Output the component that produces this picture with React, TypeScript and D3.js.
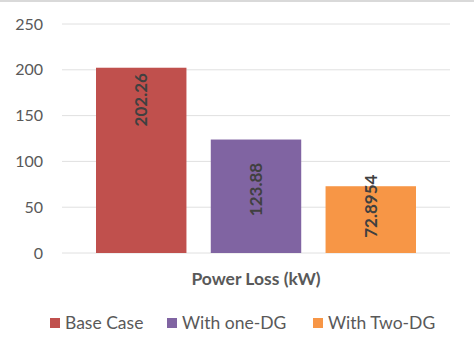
import React, { useRef, useEffect } from 'react';
import * as d3 from 'd3';

// data
const seriesNames = ['Base Case', 'With one-DG', 'With Two-DG'];
const seriesValues = [202.26, 123.88, 72.8954];
const valueLabels = ['202.26', '123.88', '72.8954'];
const yTicks = [0, 50, 100, 150, 200, 250];
const categoryLabel = 'Power Loss (kW)';

const colors = ['#C0504D', '#8064A2', '#F79646'];
// how far the label centre sits below the bar top, in px
const labelNudge = [32, 50, 20];

const W = 474;
const H = 353;
const FONT = 'Lato, "Open Sans", sans-serif';

const App = () => {
    const svgRef = useRef<SVGSVGElement>(null);

    useEffect(() => {
        const svg = d3.select(svgRef.current);
        svg.selectAll('*').remove();

        const plot = { left: 62, right: 450, top: 24, bottom: 253 };

        // top frame line
        svg.append('rect')
            .attr('x', 0).attr('y', 0)
            .attr('width', W).attr('height', 2)
            .attr('fill', '#d9d9d9');

        const y = d3.scaleLinear().domain([0, 250]).range([plot.bottom, plot.top]);

        // one category, three series
        const x = d3.scaleBand<string>()
            .domain(seriesNames)
            .range([96, 416])
            .paddingInner(0.212);

        // gridlines
        svg.append('g')
            .selectAll('line')
            .data(yTicks)
            .join('line')
            .attr('x1', plot.left)
            .attr('x2', plot.right)
            .attr('y1', d => y(d))
            .attr('y2', d => y(d))
            .attr('stroke', '#e0e0e0')
            .attr('stroke-width', 1);

        // y tick labels
        svg.append('g')
            .selectAll('text')
            .data(yTicks)
            .join('text')
            .attr('x', 43)
            .attr('y', d => y(d))
            .attr('dy', '0.35em')
            .attr('text-anchor', 'end')
            .attr('font-family', FONT)
            .attr('font-size', 16)
            .attr('fill', '#595959')
            .text(d => d);

        // bars
        svg.append('g')
            .selectAll('rect')
            .data(seriesValues)
            .join('rect')
            .attr('x', (d, i) => x(seriesNames[i]))
            .attr('y', d => y(d))
            .attr('width', x.bandwidth())
            .attr('height', d => y(0) - y(d))
            .attr('fill', (d, i) => colors[i]);

        // rotated value labels
        svg.append('g')
            .selectAll('text')
            .data(seriesValues)
            .join('text')
            .attr('transform', (d, i) => {
                const cx = x(seriesNames[i]) + x.bandwidth() / 2;
                const cy = y(d) + labelNudge[i];
                return `translate(${cx},${cy}) rotate(-90)`;
            })
            .attr('text-anchor', 'middle')
            .attr('dy', '0.35em')
            .attr('font-family', FONT)
            .attr('font-weight', 'bold')
            .attr('font-size', 17)
            .attr('fill', '#404040')
            .text((d, i) => valueLabels[i]);

        // category label
        svg.append('text')
            .attr('x', 256)
            .attr('y', 279)
            .attr('dy', '0.35em')
            .attr('text-anchor', 'middle')
            .attr('font-family', FONT)
            .attr('font-weight', 'bold')
            .attr('font-size', 17.5)
            .attr('fill', '#595959')
            .text(categoryLabel);

        // legend
        const legendX = [50, 167, 313];
        const legend = svg.append('g')
            .selectAll('g')
            .data(seriesNames)
            .join('g')
            .attr('transform', (d, i) => `translate(${legendX[i]}, 323)`);

        legend.append('rect')
            .attr('x', 0).attr('y', -5)
            .attr('width', 10).attr('height', 10)
            .attr('fill', (d, i) => colors[i]);

        legend.append('text')
            .attr('x', 15)
            .attr('dy', '0.35em')
            .attr('font-family', FONT)
            .attr('font-size', 17.5)
            .attr('fill', '#595959')
            .text(d => d);
    }, []);

    return (
        <svg
            ref={svgRef}
            width={W}
            height={H}
            style={{ position: 'absolute', left: 0, top: 0, background: '#fff' }}
        />
    );
};

export default App;
